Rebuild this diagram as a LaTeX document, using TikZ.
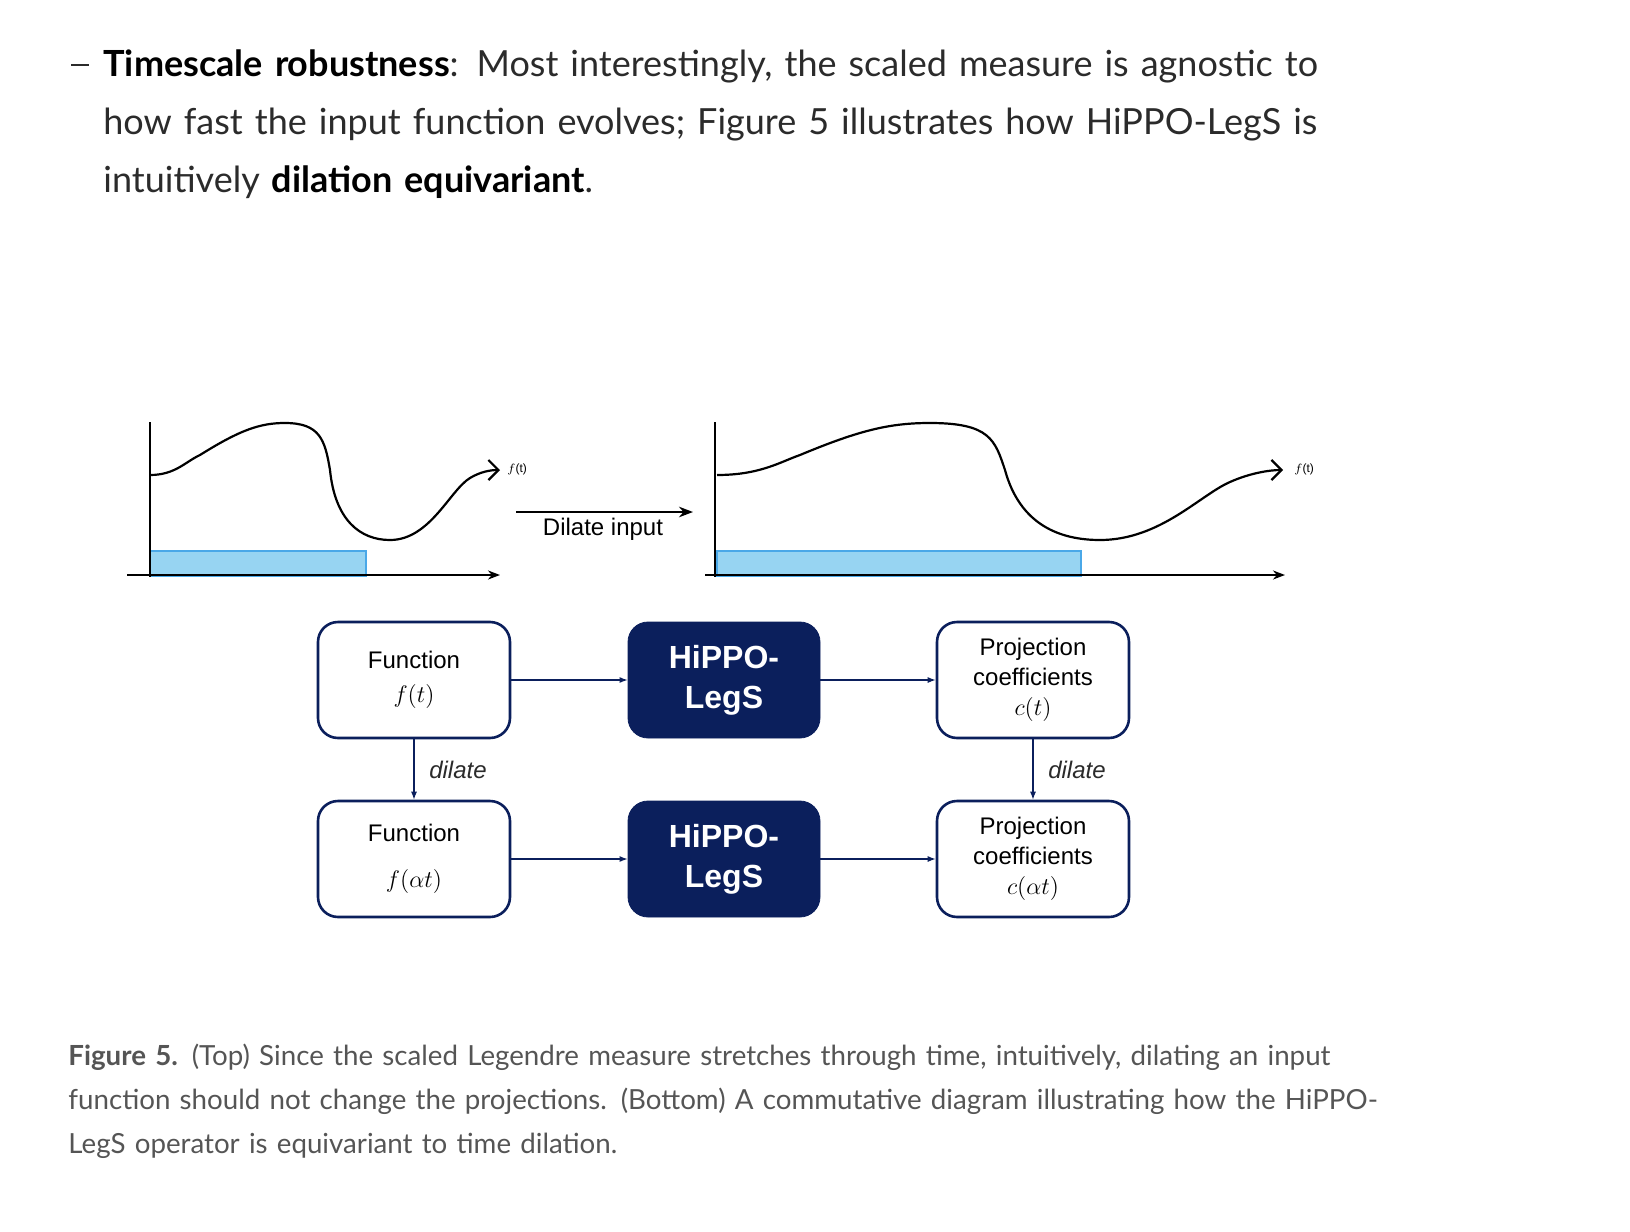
\documentclass[tikz,border=0pt]{standalone}
\usepackage{fontspec}
\setmainfont{Lato}
\newfontfamily\helv{Liberation Sans}
\usetikzlibrary{arrows.meta}
\definecolor{navy}{HTML}{0B1F5C}
\definecolor{bluefill}{HTML}{97D4F2}
\definecolor{blueedge}{HTML}{4AA8E8}
\definecolor{txt}{HTML}{2B2B2B}
\definecolor{cap}{HTML}{555555}
\begin{document}
\begin{tikzpicture}[x=0.5pt,y=-0.5pt,
  box/.style={draw=navy,line width=1.3pt,rounded corners=10pt,minimum width=96pt,minimum height=58pt,align=center,font=\helv\fontsize{12}{15}\selectfont,fill=white},
  hbox/.style={fill=navy,draw=navy,rounded corners=10pt,minimum width=96pt,minimum height=58pt,align=center,text=white,font=\helv\bfseries\fontsize{16}{20}\selectfont},
  conn/.style={draw=navy,line width=0.6pt,-{Latex[length=4pt,width=3pt]}},
  ax/.style={line width=1.2pt},
  curve/.style={line width=1.1pt},
  lab/.style={font=\helv\itshape\fontsize{12}{14}\selectfont}]
\useasboundingbox (0,0) rectangle (1630,1232);
% top text
\coordinate (ds) at (71,65); \coordinate (de) at (89,65);
\draw[txt,line width=1.1pt] (ds) -- (de);
\node[anchor=north west,text=txt,font=\fontsize{18}{29}\selectfont,text width=700pt,inner sep=0pt,align=left] (para) at (103,49)
 {\textbf{\color{black}Timescale robustness}: Most interestingly, the scaled measure is agnostic to\\ how fast the input function evolves; Figure 5 illustrates how HiPPO-LegS is\\ intuitively \textbf{\color{black}dilation equivariant}.};
% graph 1
\fill[bluefill,draw=blueedge,line width=1pt] (150,551) rectangle (366,576);
\draw[ax] (150,422) -- (150,577);
\draw[ax,-{Stealth[length=6pt]}] (127,575) -- (500,575);
\draw[curve,-{Straight Barb[length=5pt]}] (150,475) .. controls (175,475) and (185,462) .. (200,455) .. controls (240,430) and (260,423) .. (285,423) .. controls (320,423) and (325,440) .. (330,470) .. controls (335,520) and (360,540) .. (390,540) .. controls (430,540) and (450,490) .. (470,478) .. controls (480,472) and (490,470) .. (500,470);
\node[font=\helv\fontsize{6}{7}\selectfont] (f1) at (517,469) {$f$(t)};
% dilate arrow
\coordinate (d1) at (516,512); \coordinate (d2) at (693,512);
\draw[line width=1.4pt,-{Stealth[length=7pt]}] (d1) -- (d2);
\node[font=\helv\fontsize{12}{14}\selectfont] (dl) at (603,529) {Dilate input};
% graph 2
\fill[bluefill,draw=blueedge,line width=1pt] (717,551) rectangle (1081,576);
\draw[ax] (715,422) -- (715,577);
\draw[ax,-{Stealth[length=6pt]}] (705,575) -- (1285,575);
\draw[curve,-{Straight Barb[length=5pt]}] (717,475) .. controls (760,475) and (780,462) .. (800,455) .. controls (860,430) and (890,423) .. (930,423) .. controls (990,423) and (995,440) .. (1005,470) .. controls (1020,525) and (1060,540) .. (1100,540) .. controls (1160,540) and (1200,495) .. (1230,482) .. controls (1250,473) and (1270,470) .. (1283,470);
\node[font=\helv\fontsize{6}{7}\selectfont] (f2) at (1304,469) {$f$(t)};
% boxes
\node[box] (F1) at (414,680) {Function\\[2pt] $f(t)$};
\node[hbox] (H1) at (724,680) {HiPPO-\\LegS};
\node[box] (P1) at (1033,680) {Projection\\coefficients\\$c(t)$};
\node[box] (F2) at (414,859) {Function\\[8pt] $f(\alpha t)$};
\node[hbox] (H2) at (724,859) {HiPPO-\\LegS};
\node[box] (P2) at (1033,859) {Projection\\coefficients\\$c(\alpha t)$};
\draw[conn] (F1) -- (H1); \draw[conn] (H1) -- (P1);
\draw[conn] (F2) -- (H2); \draw[conn] (H2) -- (P2);
\draw[conn] (F1) -- node[right,lab,text=txt,xshift=4pt] {dilate} (F2);
\draw[conn] (P1) -- node[right,lab,text=txt,xshift=4pt] {dilate} (P2);
% caption
\node[anchor=north west,text=cap,font=\fontsize{13.85}{22}\selectfont,text width=720pt,inner sep=0pt,align=left] (capt) at (68,1044)
 {\textbf{Figure 5.} (Top) Since the scaled Legendre measure stretches through time, intuitively, dilating an input\\ function should not change the projections. (Bottom) A commutative diagram illustrating how the HiPPO-\\ LegS operator is equivariant to time dilation.};
\end{tikzpicture}
\end{document}
